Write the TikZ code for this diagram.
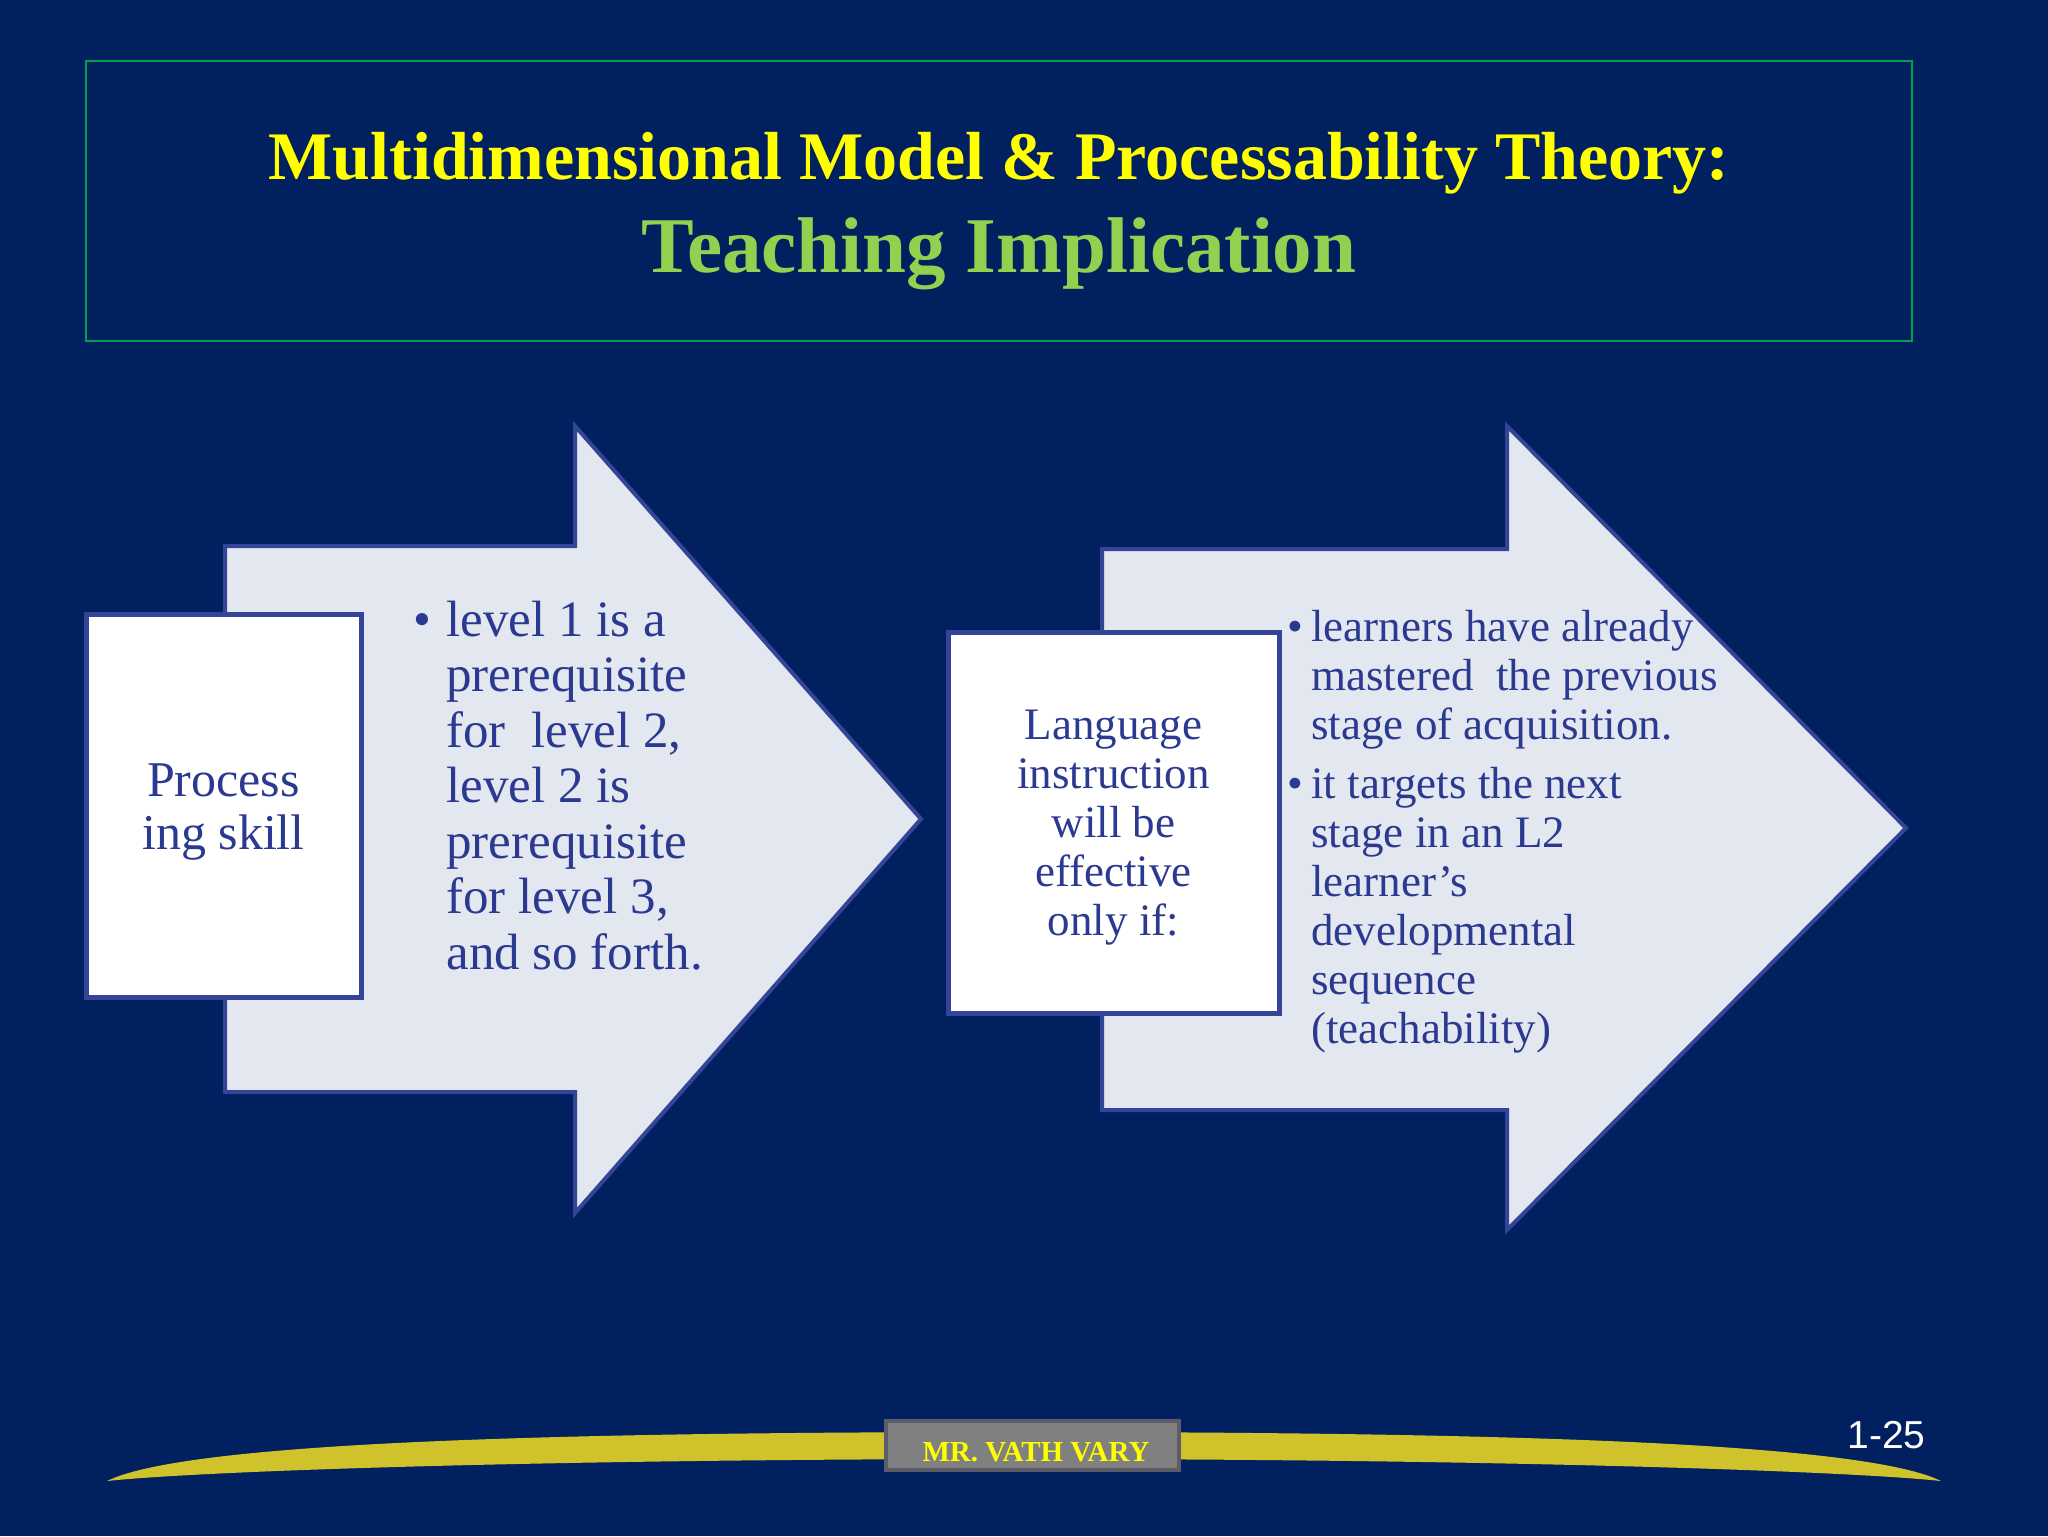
\documentclass[tikz,border=0pt]{standalone}
\usepackage{fontspec}
\setmainfont{Liberation Serif}
\newfontfamily\arialfont{Liberation Sans}
\definecolor{bg}{RGB}{1,32,96}
\definecolor{boxgreen}{RGB}{0,160,80}
\definecolor{titleyellow}{RGB}{255,255,0}
\definecolor{titlegreen}{RGB}{146,208,80}
\definecolor{arrowfill}{RGB}{226,231,240}
\definecolor{arrowline}{RGB}{52,68,150}
\definecolor{txtblue}{RGB}{43,57,144}
\definecolor{swoosh}{RGB}{207,194,42}
\definecolor{graybox}{RGB}{128,128,128}
\definecolor{grayline}{RGB}{92,92,104}
\tikzset{
  arrowshape/.style={fill=arrowfill, draw=arrowline, line width=2pt, line join=miter},
  whitebox/.style={draw=arrowline, fill=white, line width=2.5pt, inner sep=0pt},
  bodytext/.style={text=txtblue, inner sep=0pt, align=left},
  boxtext/.style={text=txtblue, inner sep=0pt, align=center},
}
\begin{document}
\begin{tikzpicture}[x=0.5pt,y=-0.5pt]
\useasboundingbox (0,0) rectangle (2048,1536);
\fill[bg] (0,0) rectangle (2048,1536);

% title box
\node[draw=boxgreen, line width=1pt, minimum width=913pt, minimum height=140pt, inner sep=0pt] (tbox) at (999,201) {};
\node[anchor=base, inner sep=0pt, text=titleyellow, font=\bfseries\fontsize{34}{40}\selectfont] (title1) at (999,179) {Multidimensional Model \& Processability Theory:};
\node[anchor=base, inner sep=0pt, text=titlegreen, font=\bfseries\fontsize{39.5}{46}\selectfont] (title2) at (999,272) {Teaching Implication};

% left arrow (base anchors of multi-line texts sit on the last line)
\draw[arrowshape] (225,546) -- (575,546) -- (575,426) -- (921,819) -- (575,1213) -- (575,1092) -- (225,1092) -- cycle;
\node[whitebox, minimum width=137.5pt, minimum height=191.5pt] (pbox) at (223.5,805.5) {};
\node[boxtext, anchor=base, font=\fontsize{25}{26.5}\selectfont] (ptext) at (223.5,849) {Process\\ing skill};
\node[bodytext, anchor=base west, font=\fontsize{25.5}{27.75}\selectfont] (bul1) at (413,636) {•};
\node[bodytext, anchor=base west, font=\fontsize{25.5}{27.75}\selectfont] (ltext) at (446,969) {level 1 is a\\prerequisite\\for\ \ level 2,\\level 2 is\\prerequisite\\for level 3,\\and so forth.};

% right arrow
\draw[arrowshape] (1102,549) -- (1507,549) -- (1507,426) -- (1906,828) -- (1507,1230) -- (1507,1110) -- (1102,1110) -- cycle;
\node[whitebox, minimum width=165.5pt, minimum height=190.5pt] (lbox) at (1113.5,822.5) {};
\node[boxtext, anchor=base, font=\fontsize{22.5}{24.5}\selectfont] (ltxt) at (1113.5,935) {Language\\instruction\\will be\\effective\\only if:};
\node[bodytext, anchor=base west, font=\fontsize{22.5}{24.5}\selectfont] (bul2) at (1287,641) {•};
\node[bodytext, anchor=base west, font=\fontsize{22.5}{24.5}\selectfont] (rtext1) at (1311,739) {learners have already\\mastered\ \ the previous\\stage of acquisition.};
\node[bodytext, anchor=base west, font=\fontsize{22.5}{24.5}\selectfont] (bul3) at (1287,798) {•};
\node[bodytext, anchor=base west, font=\fontsize{22.5}{24.5}\selectfont] (rtext2) at (1311,1043) {it targets the next\\stage in an L2\\learner’s\\developmental\\sequence\\(teachability)};

% bottom swoosh
\fill[swoosh] (107,1481) .. controls (180,1445) and (500,1432) .. (1024,1432)
  .. controls (1548,1432) and (1868,1445) .. (1941,1481)
  .. controls (1848,1471) and (1498,1459) .. (1024,1459)
  .. controls (550,1459) and (200,1471) .. (107,1481) -- cycle;
\node[draw=grayline, fill=graybox, line width=2pt, minimum width=146.5pt, minimum height=24.5pt, inner sep=0pt] (name) at (1032.5,1445.5) {};
\node[anchor=base, inner sep=0pt, text=titleyellow, font=\bfseries\fontsize{14.5}{16}\selectfont] (nametext) at (1036,1461) {MR. VATH VARY};
\node[anchor=base west, inner sep=0pt, text=white, font=\arialfont\fontsize{19.5}{22}\selectfont] (pagenum) at (1847,1448) {1-25};
\end{tikzpicture}
\end{document}
